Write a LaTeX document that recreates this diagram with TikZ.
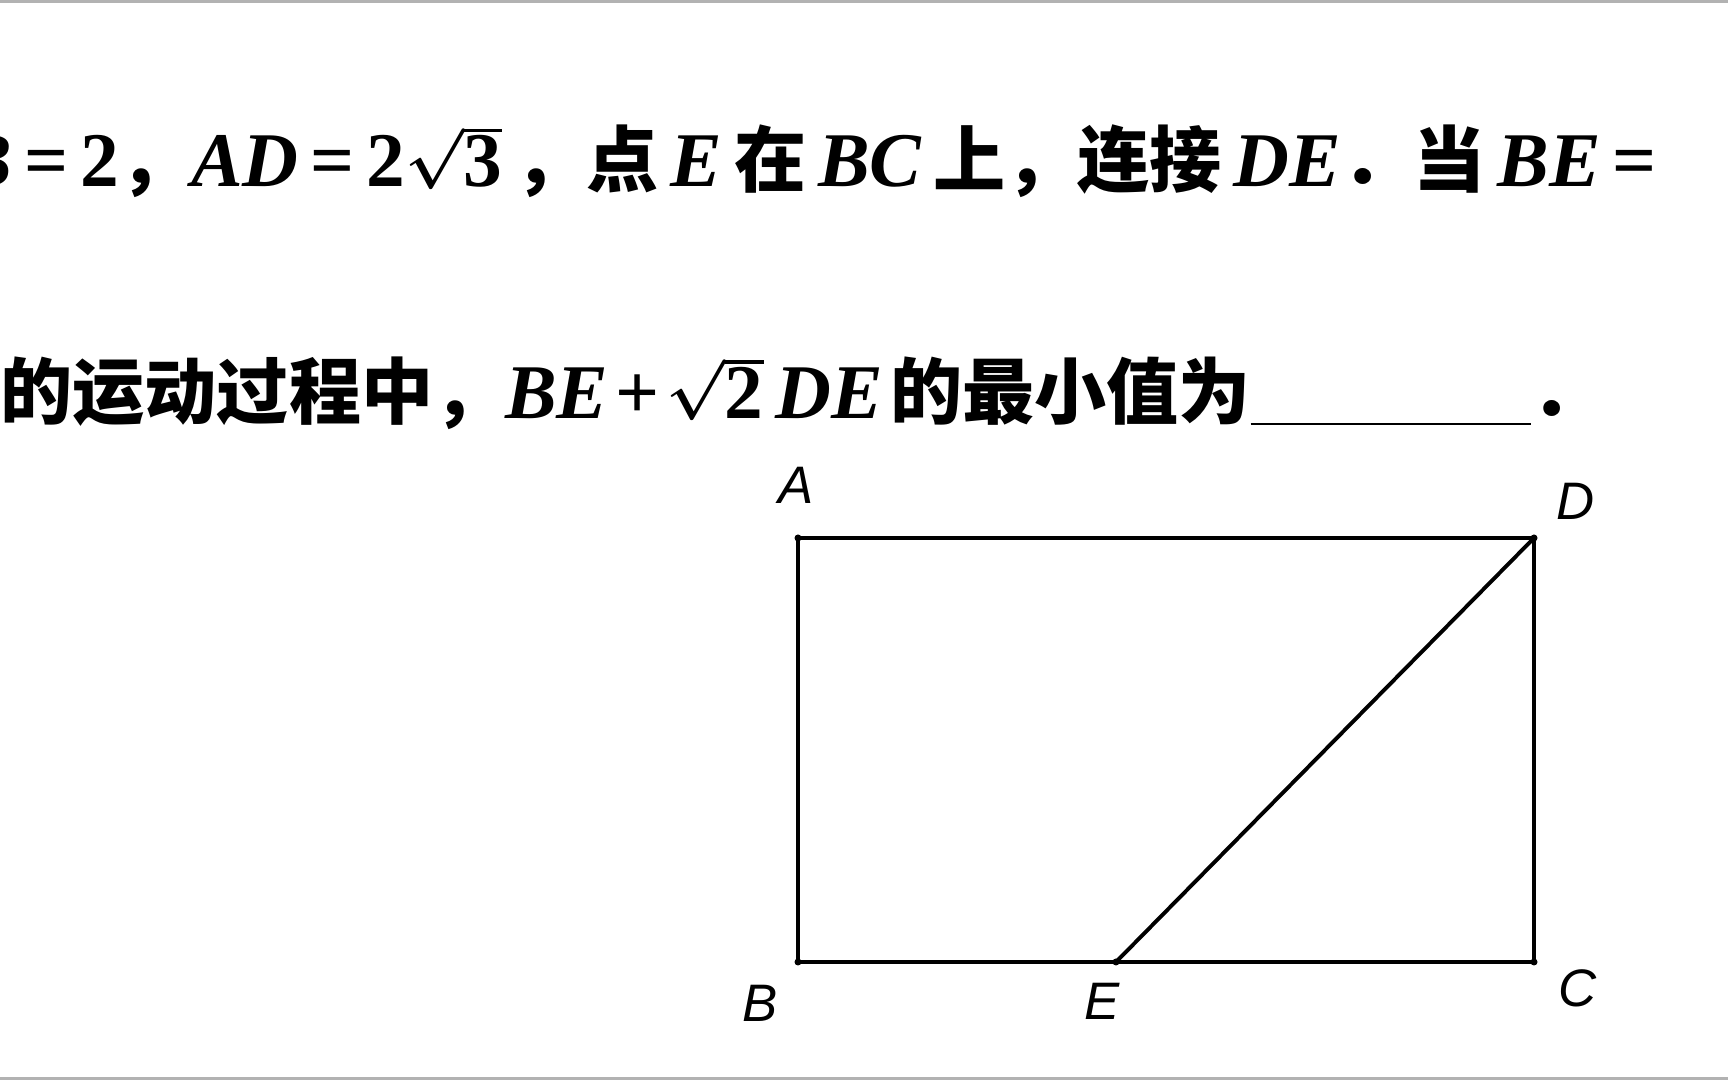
\documentclass[tikz,border=0pt]{standalone}
\usepackage{fontspec}
\setmainfont{Liberation Serif}
\newfontfamily\cjk{Noto Sans CJK SC}
\newfontfamily\latf{Liberation Serif}
\newfontfamily\lblfont{Liberation Sans}
\usetikzlibrary{calc}

\newcommand{\mi}[1]{{\latf\bfseries\itshape\fontsize{22}{22}\selectfont #1}}
\newcommand{\mr}[1]{{\latf\bfseries\fontsize{22}{22}\selectfont #1}}
\newcommand{\msq}[1]{{\fontsize{17}{17}\selectfont\boldmath$\sqrt{\mbox{\mr{#1}}}$}}

\tikzset{
  qline/.style={anchor=base west, inner sep=0pt, font=\cjk\bfseries\fontsize{20.5}{20.5}\selectfont},
  ptlabel/.style={font=\lblfont\itshape\fontsize{15}{15}\selectfont, inner sep=0pt},
  side/.style={black, line width=1.1pt},
  frameline/.style={gray!60, line width=1.2pt}
}

\begin{document}
\begin{tikzpicture} [x=.01cm, y=.01cm]
\useasboundingbox (0,0) rectangle (1728,1080);
\clip (0,0) rectangle (1728,1080);
\draw[frameline] (0,1079) -- (1728,1079);
\draw[frameline] (0,1) -- (1728,1);
% problem text
\node[qline] (line1) at (-40,893) {\mi{B}\,\mr{=}\,\mr{2}，\mi{AD}\,\mr{=}\,\mr{2}\msq{3}\,，点\,\mi{E}\,在\,\mi{BC}\,上，连接\,\mi{DE}．当\,\mi{BE}\,\mr{=}};
\node[qline] (line2) at (0,661) {的运动过程中，\mi{BE}\hspace{2pt}\mr{+}\hspace{2pt}\msq{2}\,\mi{DE}\hspace{2pt}的最小值为\underline{\hspace{2.8cm}}．};
% rectangle ABCD
\coordinate (A) at (798,542);
\coordinate (D) at (1534,542);
\coordinate (B) at (798,118);
\coordinate (C) at (1534,118);
\coordinate (E) at (1116,118);
\draw[side] (A) -- (D) -- (C) -- (B) -- cycle;
\draw[side] (D) -- (E);
\foreach \p in {A,B,C,D,E} {
 \fill (\p) circle (3.5);
}
\node[ptlabel] (labA) at (796,595) {A};
\node[ptlabel] (labD) at (1576,579) {D};
\node[ptlabel] (labB) at (760,77) {B};
\node[ptlabel] (labE) at (1102,79) {E};
\node[ptlabel] (labC) at (1578,92) {C};
\end{tikzpicture}
\end{document}
